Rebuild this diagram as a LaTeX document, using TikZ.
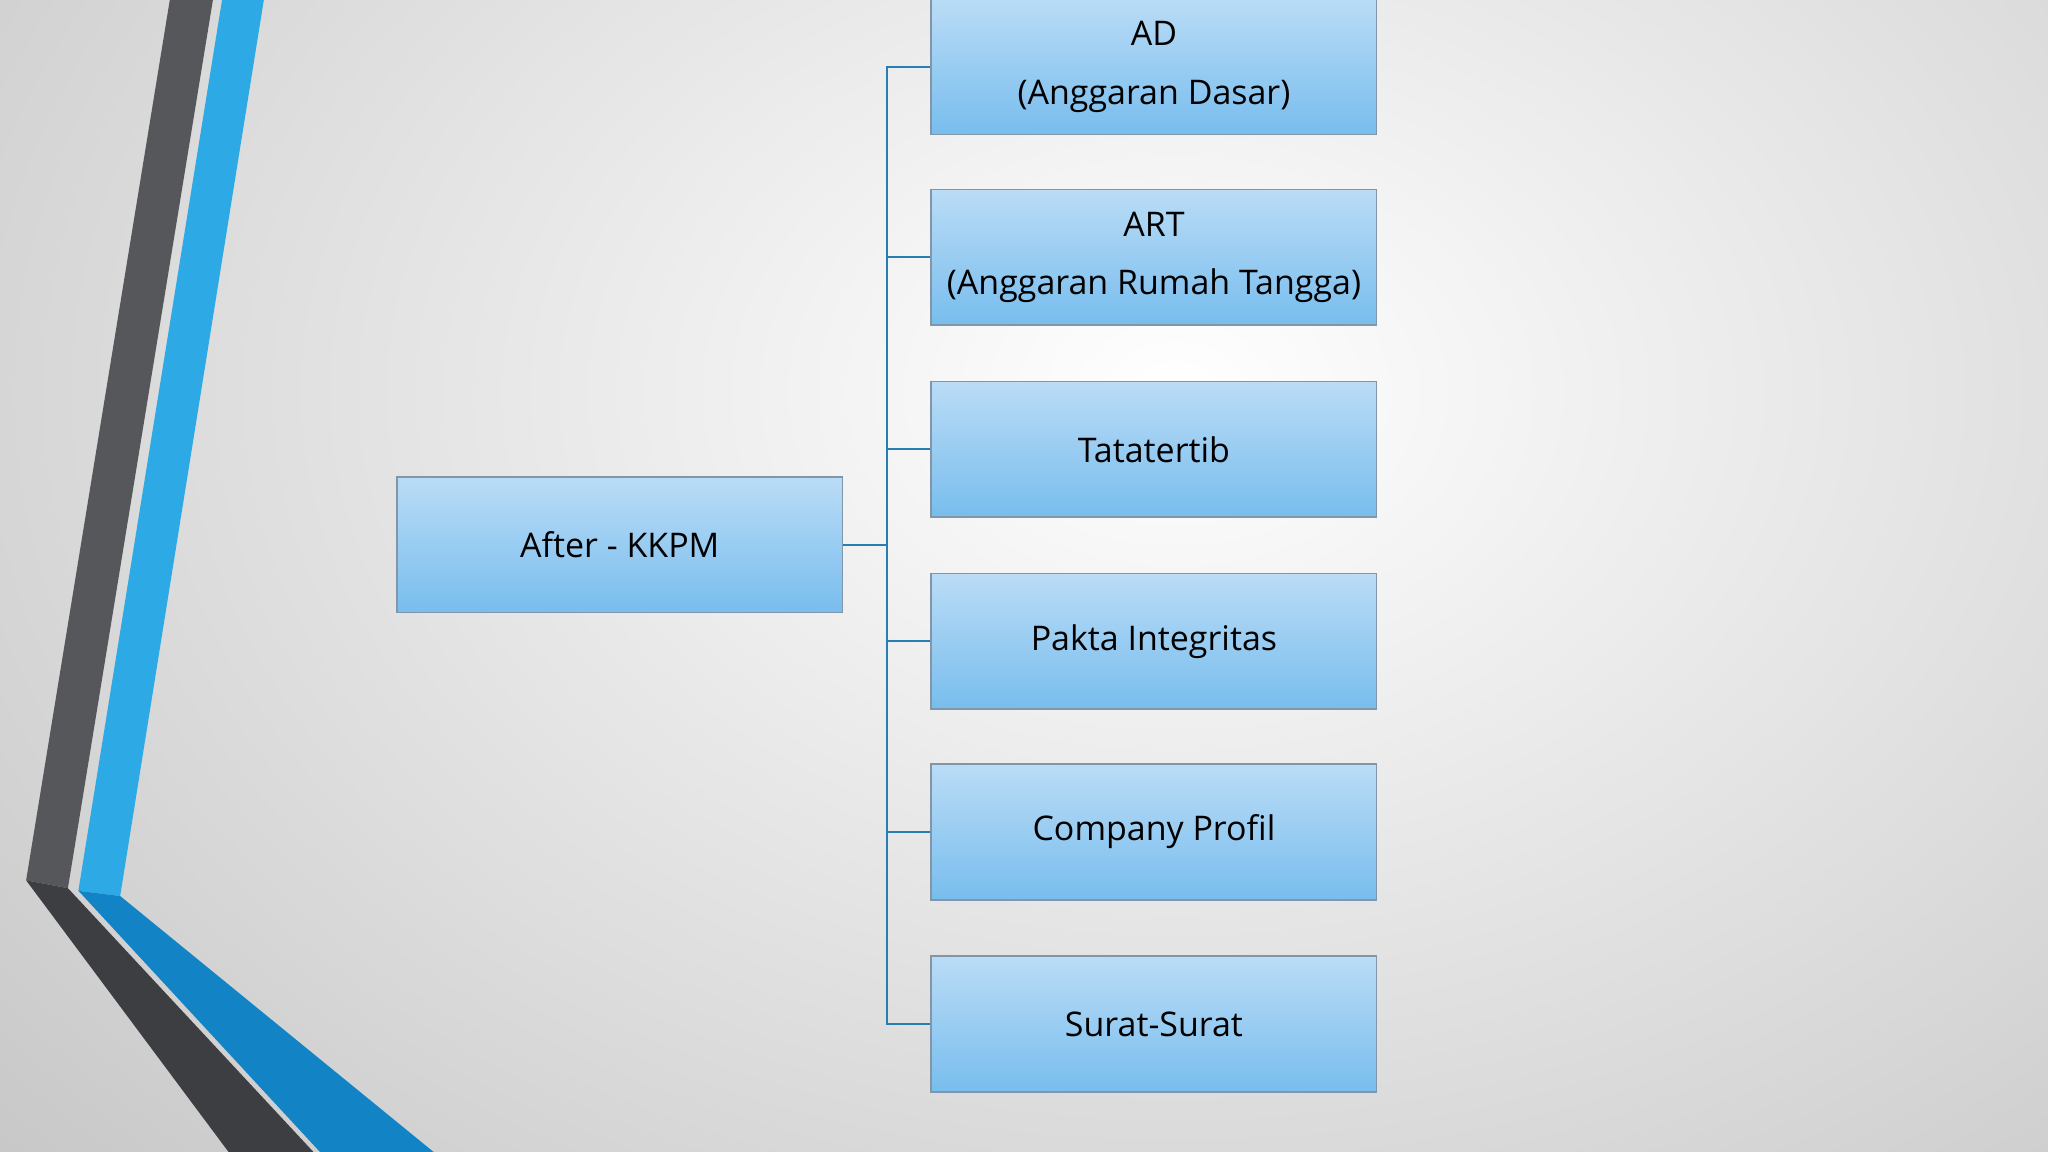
\documentclass[tikz,border=0pt]{standalone}
\usepackage{fontspec}
\setmainfont{Open Sans}
\definecolor{boxtop}{RGB}{186,220,246}
\definecolor{boxbot}{RGB}{120,189,238}
\definecolor{boxline}{RGB}{130,150,170}
\definecolor{connc}{RGB}{40,125,180}
\definecolor{stripeA}{RGB}{85,87,90}
\definecolor{stripeB}{RGB}{45,170,230}
\definecolor{stripeC}{RGB}{60,62,65}
\definecolor{stripeD}{RGB}{18,132,198}
\begin{document}
\begin{tikzpicture}[x=0.5pt,y=-0.5pt,
  box/.style={draw=boxline, line width=0.6pt, top color=boxtop, bottom color=boxbot, minimum width=170.5pt, minimum height=52pt, inner sep=0pt, font=\fontsize{13}{22.5}\selectfont, align=center},
  conn/.style={draw=connc, line width=0.8pt}]
\useasboundingbox (0,0) rectangle (1568,882);
\shade[inner color=white, outer color=gray!50] (-500,-700) rectangle (2300,1300);
% stripes
\fill[stripeA] (130,0) -- (163,0) -- (52,680) -- (20,674) -- cycle;
\fill[stripeB] (170,0) -- (202,0) -- (92,686) -- (60,682) -- cycle;
\fill[stripeC] (20,674) -- (52,680) -- (240,882) -- (175,882) -- cycle;
\fill[stripeD] (60,682) -- (92,686) -- (332,882) -- (245,882) -- cycle;
\node[box] (main) at (474.5,417) {After - KKPM};
\node[box] (b1) at (883.5,51) {AD\\(Anggaran Dasar)};
\node[box] (b2) at (883.5,197) {ART\\(Anggaran Rumah Tangga)};
\node[box] (b3) at (883.5,344) {Tatatertib};
\node[box] (b4) at (883.5,491) {Pakta Integritas};
\node[box] (b5) at (883.5,637) {Company Profil};
\node[box] (b6) at (883.5,784) {Surat-Surat};
\coordinate (j) at (679,417);
\draw[conn] (main.east) -- (j);
\foreach \b in {b1,b2,b3,b4,b5,b6}{\draw[conn] (j) |- (\b.west);}
\end{tikzpicture}
\end{document}
